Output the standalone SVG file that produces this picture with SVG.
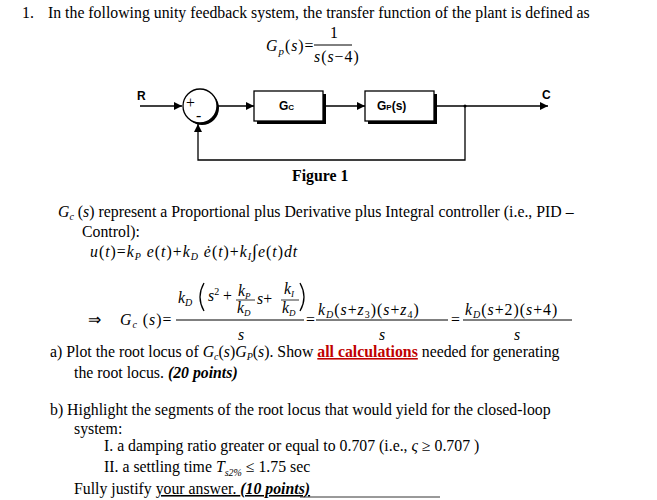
<svg xmlns="http://www.w3.org/2000/svg" width="657" height="500" viewBox="0 0 657 500">
<defs>
<marker id="ar" viewBox="0 0 10 10" refX="10" refY="5" markerWidth="8" markerHeight="8" markerUnits="userSpaceOnUse" orient="auto"><path d="M0,0L10,5L0,10z" fill="#000"/></marker>
</defs>
<style>
text{font-family:"Liberation Serif",serif;font-size:15.8px;fill:#000}
.i{font-style:italic}
.m{letter-spacing:1px}
.s{font-family:"Liberation Sans",Arial,sans-serif;font-weight:bold;font-size:12px}
.l{stroke:#000;stroke-width:1.3;fill:none}
.b{fill:#fff;stroke:#000;stroke-width:1.3}
</style>
<rect width="657" height="500" fill="#fff"/>
<text x="22" y="18">1.</text>
<text x="48" y="18">In the following unity feedback system, the transfer function of the plant is defined as</text>
<text x="266" y="51" class="i m" font-size="17">G<tspan font-size="11" dy="4">p</tspan><tspan dy="-4" font-style="normal">(</tspan>s<tspan font-style="normal">)=</tspan></text>
<text x="330" y="38" font-size="15">1</text>
<line x1="314" y1="45" x2="352" y2="45" stroke="#000"/>
<text x="314" y="62" class="i m" font-size="17">s<tspan font-style="normal">(</tspan>s<tspan font-style="normal">−4)</tspan></text>
<g id="connectors">
<line class="l" x1="140" y1="106" x2="182" y2="106" marker-end="url(#ar)"/>
<line class="l" x1="218" y1="106" x2="254" y2="106" marker-end="url(#ar)"/>
<line class="l" x1="324" y1="106" x2="365" y2="106" marker-end="url(#ar)"/>
<line class="l" x1="434" y1="106" x2="548" y2="106" marker-end="url(#ar)"/>
<polyline class="l" points="465,106 465,160 198,160 198,124" marker-end="url(#ar)"/>
<circle cx="465" cy="106" r="1.5"/>
</g>
<g id="sum"><circle cx="202" cy="108" r="17" fill="#000"/><circle class="b" cx="200" cy="106" r="17"/><text x="186" y="108" font-size="8">+</text><text x="196" y="121" font-size="9">-</text></g>
<text class="s" x="137" y="100">R</text>
<text class="s" x="542" y="99">C</text>
<g id="gc"><rect x="257" y="94" width="69" height="30" fill="#000"/><rect class="b" x="254" y="91" width="69" height="30"/><text class="s" x="279" y="110">G<tspan font-size="8">C</tspan></text></g>
<g id="gp"><rect x="368" y="94" width="69" height="30" fill="#000"/><rect class="b" x="365" y="91" width="69" height="30"/><text class="s" x="377" y="110">G<tspan font-size="8">P</tspan>(s)</text></g>
<text x="292" y="181" font-weight="bold">Figure 1</text>
<text x="58" y="217"><tspan class="i">G</tspan><tspan font-size="10" class="i" dy="3">c</tspan><tspan dy="-3"> (</tspan><tspan class="i">s</tspan>) represent a Proportional plus Derivative plus Integral controller (i.e., PID –</text>
<text x="82" y="237">Control):</text>
<text x="90" y="257" class="i m">u<tspan font-style="normal">(</tspan>t<tspan font-style="normal">)=</tspan>k<tspan font-size="10" dy="3">P</tspan><tspan dy="-3"> e</tspan><tspan font-style="normal">(</tspan>t<tspan font-style="normal">)+</tspan>k<tspan font-size="10" dy="3">D</tspan><tspan dy="-3"> ė</tspan><tspan font-style="normal">(</tspan>t<tspan font-style="normal">)+</tspan>k<tspan font-size="10" dy="3">I</tspan><tspan dy="-3" font-style="normal" font-size="18">∫</tspan>e<tspan font-style="normal">(</tspan>t<tspan font-style="normal">)</tspan>dt</text>
<text x="88" y="325">⇒</text>
<text x="120" y="325" class="i m">G<tspan font-size="10" dy="3">c</tspan><tspan dy="-3" font-style="normal"> (</tspan>s<tspan font-style="normal">)=</tspan></text>
<line x1="176" y1="320" x2="304" y2="320" stroke="#000"/>
<text x="178" y="303" class="i">k<tspan font-size="10" dy="3">D</tspan></text>
<path d="M204,283 Q196,297 204,311" class="l" stroke-width="1"/>
<text x="208" y="301" class="i">s<tspan font-size="10" dy="-6" font-style="normal">2</tspan><tspan dy="6" font-style="normal"> +</tspan></text>
<text x="238" y="296" class="i" font-size="13">k<tspan font-size="9" dy="3">P</tspan></text>
<line x1="236" y1="300" x2="255" y2="300" stroke="#000" stroke-width=".8"/>
<text x="237" y="313" class="i" font-size="13">k<tspan font-size="9" dy="3">D</tspan></text>
<text x="257" y="304" class="i">s<tspan font-style="normal">+</tspan></text>
<text x="284" y="294" class="i" font-size="13">k<tspan font-size="9" dy="3">I</tspan></text>
<line x1="281" y1="300" x2="299" y2="300" stroke="#000" stroke-width=".8"/>
<text x="282" y="313" class="i" font-size="13">k<tspan font-size="9" dy="3">D</tspan></text>
<path d="M300,283 Q308,297 300,311" class="l" stroke-width="1"/>
<text x="238" y="340" class="i">s</text>
<text x="306" y="325">=</text>
<text x="318" y="315" class="i m">k<tspan font-size="10" dy="3">D</tspan><tspan dy="-3" font-style="normal">(</tspan>s<tspan font-style="normal">+</tspan>z<tspan font-style="normal" font-size="10" dy="3">3</tspan><tspan dy="-3" font-style="normal">)(</tspan>s<tspan font-style="normal">+</tspan>z<tspan font-style="normal" font-size="10" dy="3">4</tspan><tspan dy="-3" font-style="normal">)</tspan></text>
<line x1="316" y1="320" x2="448" y2="320" stroke="#000"/>
<text x="379" y="340" class="i">s</text>
<text x="451" y="325">=</text>
<text x="465" y="315" class="i m">k<tspan font-size="10" dy="3">D</tspan><tspan dy="-3" font-style="normal">(</tspan>s<tspan font-style="normal">+2)(</tspan>s<tspan font-style="normal">+4)</tspan></text>
<line x1="463" y1="320" x2="572" y2="320" stroke="#000"/>
<text x="514" y="340" class="i">s</text>
<text x="50" y="357">a)  Plot the root locus of <tspan class="i">G</tspan><tspan font-size="10" class="i" dy="3">c</tspan><tspan dy="-3">(</tspan><tspan class="i">s</tspan>)<tspan class="i">G</tspan><tspan font-size="10" class="i" dy="3">P</tspan><tspan dy="-3">(</tspan><tspan class="i">s</tspan>). Show <tspan fill="#c00000" font-weight="bold" text-decoration="underline">all calculations</tspan> needed for generating</text>
<text x="74" y="378">the root locus. <tspan font-weight="bold" class="i">(20 points)</tspan></text>
<text x="50" y="415">b)  Highlight the segments of the root locus that would yield for the closed-loop</text>
<text x="74" y="434">system:</text>
<text x="104" y="451">I. a damping ratio greater or equal to 0.707 (i.e., <tspan class="i">ς</tspan> ≥ 0.707 )</text>
<text x="104" y="472">II. a settling time <tspan class="i">T</tspan><tspan font-size="10" class="i" dy="4">s2%</tspan><tspan dy="-4"> ≤ 1.75 sec</tspan></text>
<text x="74" y="494">Fully justify <tspan text-decoration="underline">your answer. <tspan font-weight="bold" class="i">(10 points)</tspan></tspan></text>
<line x1="300" y1="497" x2="440" y2="497" stroke="#000" stroke-width=".8"/>
</svg>
